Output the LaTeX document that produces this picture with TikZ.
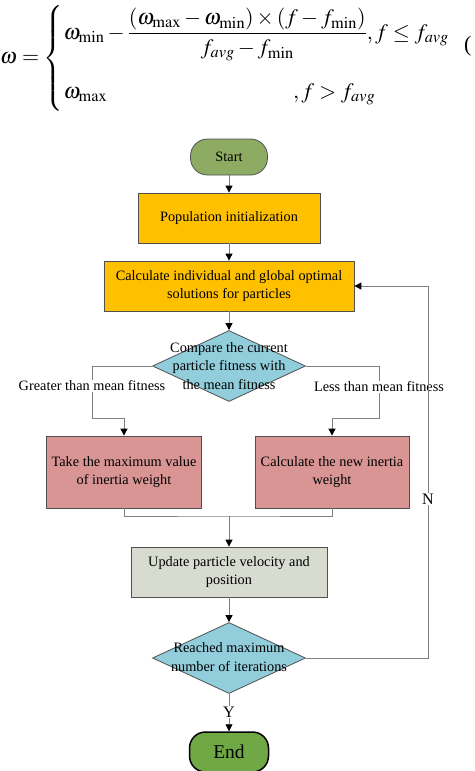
\documentclass[tikz,border=0pt]{standalone}
\usepackage{amsmath}
\usepackage{mathptmx}
\usepackage{fontspec}
\setmainfont{Liberation Serif}
\usetikzlibrary{shapes.geometric,arrows.meta}
\definecolor{startgreen}{HTML}{8DAB62}
\definecolor{endgreen}{HTML}{70A845}
\definecolor{orangebox}{HTML}{FFC000}
\definecolor{pinkbox}{HTML}{D99594}
\definecolor{cyanbox}{HTML}{92CDDC}
\definecolor{graybox}{HTML}{D8DCD0}
\definecolor{boxline}{HTML}{505050}
\definecolor{linegray}{HTML}{7F7F7F}
\tikzset{
  txt/.style={font=\fontsize{14.3}{18.5}\selectfont, align=center},
  proc/.style={txt, rectangle, draw=boxline, line width=0.8pt, inner sep=0pt},
  term/.style={txt, rectangle, rounded corners=17pt, draw=boxline, line width=0.8pt, inner sep=0pt},
  dia/.style={diamond, draw=boxline, fill=cyanbox, line width=0.8pt, inner sep=0pt, minimum width=153pt, minimum height=71pt},
  conn/.style={draw=linegray, line width=0.9pt, -{Triangle[length=7pt,width=7pt,color=black]}},
  plain/.style={draw=linegray, line width=0.9pt},
  lbl/.style={txt, fill=white, inner sep=1pt},
}
\begin{document}
\begin{tikzpicture}[x=1pt,y=-1pt]
\useasboundingbox (0,0) rectangle (474,771);
% formula
\node[anchor=west, inner sep=0pt] (formula) at (0,58) {\fontsize{22}{26}\selectfont
$\omega=\begin{cases}
\omega_{\min}-\dfrac{(\omega_{\max}-\omega_{\min})\times(f-f_{\min})}{f_{avg}-f_{\min}}, f\le f_{avg}\\[28pt]
\omega_{\max}\hspace{186pt}, f> f_{avg}
\end{cases}$};
\node[anchor=west, inner sep=0pt, font=\fontsize{22}{26}\selectfont] (paren) at (464,46) {(};
% nodes
\node[term, fill=startgreen, minimum width=77pt, minimum height=36pt] (start) at (229,157) {Start};
\node[proc, fill=orangebox, minimum width=182pt, minimum height=50pt] (pop) at (229,218) {Population initialization};
\node[proc, fill=orangebox, minimum width=250pt, minimum height=50pt] (calc) at (229,286) {Calculate individual and global optimal\\solutions for particles};
\node[dia] (cmp) at (229,366) {};
\node[txt] (cmptxt) at (229,366) {Compare the current\\particle fitness with\\the mean fitness};
\node[proc, fill=pinkbox, minimum width=155pt, minimum height=72pt] (lbox) at (124,472) {Take the maximum value\\of inertia weight};
\node[proc, fill=pinkbox, minimum width=154pt, minimum height=72pt] (rbox) at (332,472) {Calculate the new inertia\\weight};
\node[proc, fill=graybox, minimum width=196pt, minimum height=50pt] (upd) at (229,572) {Update particle velocity and\\position};
\node[dia] (reach) at (229,658) {};
\node[txt] (reachtxt) at (229,657) {Reached maximum\\number of iterations};
\node[term, fill=endgreen, draw=black, line width=1.5pt, rounded corners=16pt, minimum width=79pt, minimum height=40pt, font=\fontsize{19.5}{22}\selectfont] (end) at (229,752) {End};
% coordinates
\coordinate (lturn) at (92,418);
\coordinate (rturn) at (379,418);
\coordinate (mrg) at (229,516);
\coordinate (fbtop) at (428,286);
% connectors
\draw[conn] (start) -- (pop);
\draw[conn] (pop) -- (calc);
\draw[conn] (calc) -- (cmp);
\draw[conn] (cmp.west) -| (lturn) -| (lbox.north);
\draw[conn] (cmp.east) -| (rturn) -| (rbox.north);
\draw[plain] (lbox.south) |- (mrg) -| (rbox.south);
\draw[conn] (mrg) -- (upd.north);
\draw[conn] (upd) -- (reach);
\draw[conn] (reach.south) -- (end.north);
% labels
\node[lbl] (gt) at (92,386) {Greater than mean fitness};
\node[lbl] (lt) at (379,387) {Less than mean fitness};
\node[lbl] (ylbl) at (229,712) {\fontsize{16}{18}\selectfont Y};
% feedback
\draw[conn] (reach.east) -| (fbtop) -- (calc.east);
\node[lbl] (nlbl) at (428,499) {\fontsize{16}{18}\selectfont N};
\end{tikzpicture}
\end{document}
